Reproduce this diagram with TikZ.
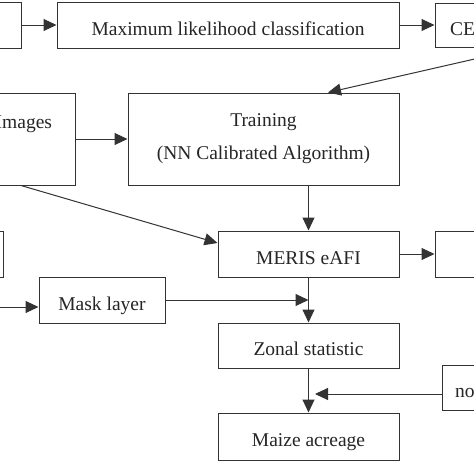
\documentclass[tikz,border=0pt]{standalone}
\usepackage{fontspec}
\setmainfont{Liberation Serif}
\usetikzlibrary{positioning,arrows.meta,calc}
\definecolor{edge}{HTML}{333333}
\tikzset{
  flow/.style={>={Triangle[length=13pt,width=12pt]},
    line width=1pt,
    draw=edge,
    font=\fontsize{19.5}{33}\selectfont},
  tall box/.style={rectangle,draw=edge,fill=white,line width=1pt,inner sep=0pt,
    text=black!85,align=center},
  box/.style={tall box,text height=20pt,text depth=0pt},
  cut box/.style={box,align=left,inner xsep=15pt,text width=150pt}}

\begin{document}
\begin{tikzpicture}[x=1pt,y=-1pt,flow]
  \useasboundingbox (0,0) rectangle (474,474);
  \clip (0,0) rectangle (474,474);
  % top row
  \node[box,minimum width=82pt,minimum height=46pt] (src) at (-20,25) {};
  \node[box,minimum width=342pt,minimum height=46pt] (mlc) at (228,25) {Maximum likelihood classification};
  \node[cut box,minimum height=44pt] (ceb) at (525,25) {CE};
  % training row
  \node[tall box,minimum width=150pt,minimum height=92pt,align=right,inner xsep=23pt,text width=104pt] (img) at (0,139) {Images\\\mbox{}};
  \node[tall box,minimum width=271pt,minimum height=92pt] (trn) at (263.5,139) {Training\\(NN Calibrated Algorithm)};
  % index row
  \node[box,minimum width=86pt,minimum height=46pt] (lft) at (-40,254) {};
  \node[box,minimum width=181pt,minimum height=46pt] (mer) at (308.5,254) {MERIS eAFI};
  \node[cut box,minimum height=46pt] (rgt) at (525,254) {};
  \node[box,minimum width=126pt,minimum height=46pt] (msk) at (102,300) {Mask layer};
  % output
  \node[box,minimum width=181pt,minimum height=45pt] (zon) at (308.5,345.5) {Zonal statistic};
  \node[box,minimum width=181pt,minimum height=47pt] (maz) at (308.5,436.5) {Maize acreage};
  \node[box,align=left,inner xsep=13pt,text width=140pt,minimum height=45pt] (nob) at (525,387.5) {no};
  \coordinate (mskin) at (-20,307);
  \coordinate (nojoin) at (315,394);
  \draw[->] (src) -- (mlc);
  \draw[->] (mlc) -- (ceb);
  \draw[->] (ceb.south) -- ($(trn.north)+(64.5,0)$);
  \draw[->] (img) -- (trn);
  \draw[->] ($(img.south)+(21,0)$) -- ($(mer.west)+(0,-11)$);
  \draw[->] (trn.south -| mer.north) -- (mer.north);
  \draw[->] (mer) -- (rgt);
  \draw[->] (mskin) -- (mskin -| msk.west);
  \draw[->] (msk.east) -- (msk.east -| mer.south);
  \draw[->] (mer) -- (zon);
  \draw[->] (zon) -- (maz);
  \draw[->] (nob.west |- nojoin) -- (nojoin);
\end{tikzpicture}
\end{document}
